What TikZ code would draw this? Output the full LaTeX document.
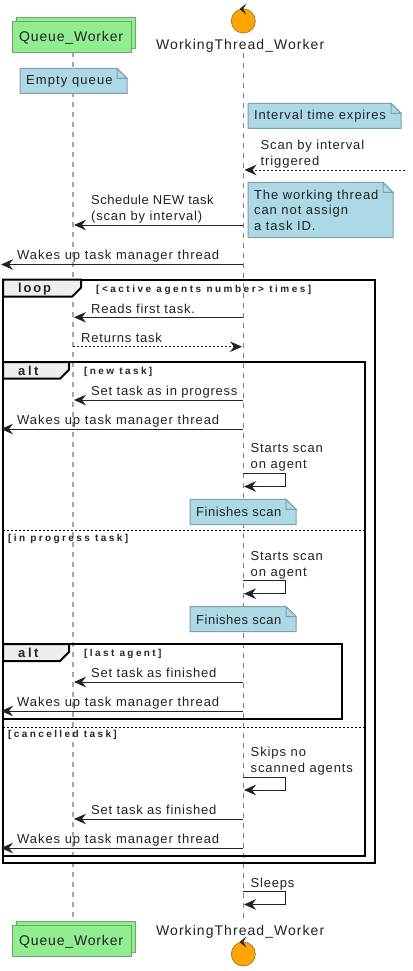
\documentclass[tikz,border=0pt]{standalone}
\usepackage{fontspec}
\setmainfont{Liberation Sans}
\newfontfamily\msgfont[LetterSpace=7]{Liberation Sans}
\newfontfamily\actorfont[LetterSpace=7.5]{Liberation Sans}
\newfontfamily\tagfont[LetterSpace=20]{Liberation Sans}
\newfontfamily\guardfont[LetterSpace=24]{Liberation Sans}
\newcommand\lsp[2]{{\addfontfeature{LetterSpace=#1}#2}}
\usetikzlibrary{arrows.meta}
\definecolor{txt}{HTML}{222222}
\definecolor{notefill}{HTML}{ADD8E6}
\definecolor{noteline}{HTML}{7F9FAB}
\definecolor{qfill}{HTML}{90EE90}
\definecolor{qline}{HTML}{6FA56F}
\definecolor{tabfill}{HTML}{EEEEEE}
\definecolor{ctlfill}{HTML}{FFA500}
\definecolor{ctlline}{HTML}{A08030}
\tikzset{
  msgtext/.style={inner sep=0pt,anchor=base west,text=txt,align=left,font=\msgfont\fontsize{13}{15.5}\selectfont},
  actortext/.style={inner sep=0pt,anchor=base west,text=txt,font=\actorfont\fontsize{14}{16}\selectfont},
  tabtext/.style={inner sep=0pt,anchor=base west,text=black!85,font=\tagfont\bfseries\fontsize{13}{15}\selectfont},
  guardtext/.style={inner sep=0pt,anchor=base west,text=black!85,font=\guardfont\bfseries\fontsize{10}{12}\selectfont},
  head/.style={-{Stealth[length=12pt,width=10.5pt,inset=4pt]}},
  solidmsg/.style={head,draw=txt,line width=1pt},
  dotmsg/.style={head,draw=txt,line width=1pt,dash pattern=on 2pt off 2pt},
  frameline/.style={draw=black,line width=2pt},
  divider/.style={draw=black,line width=1pt,dash pattern=on 2pt off 2pt},
  notebox/.style={fill=notefill,draw=noteline,line width=1pt},
  qbox/.style={fill=qfill,draw=qline,line width=1pt},
  qlife/.style={draw=black!35,line width=1.4pt,dash pattern=on 5pt off 5pt},
  wlife/.style={draw=black!50,line width=1pt,dash pattern=on 5pt off 5pt},
}
% straight message: name, x from, x to, y, style
\newcommand\msgline[5]{%
  \coordinate (#1a) at (#2,#4);
  \coordinate (#1b) at (#3,#4);
  \draw[#5] (#1a) -- (#1b);}
% self message: name, y top, y bottom
\newcommand\selfmsg[3]{%
  \coordinate (#1a) at (243,#2);
  \coordinate (#1b) at (285.5,#2);
  \coordinate (#1c) at (285.5,#3);
  \coordinate (#1d) at (244,#3);
  \draw[solidmsg] (#1a) -- (#1b) -- (#1c) -- (#1d);}
% note: left, top, right, bottom
\newcommand\notepaper[4]{%
  \draw[notebox] (#1,#2) -- ({#3-10},#2) -- (#3,{#2+10}) -- (#3,#4) -- (#1,#4) -- cycle;
  \draw[notebox] ({#3-10},#2) -- ({#3-10},{#2+10}) -- (#3,{#2+10}) -- cycle;}
% group frame: left top right bottom tabright tabbottom
\newcommand\groupframe[6]{%
  \draw[frameline] (#1,#2) rectangle (#3,#4);
  \draw[frameline,fill=tabfill] (#1,#2) -- (#5,#2) -- (#5,{#6-9}) -- ({#5-9},#6) -- (#1,#6) -- cycle;}
% actor with stacked boxes: name, top of back box
\newcommand\queueactor[2]{%
  \draw[qbox] (16,#2) rectangle (135,{#2+31});
  \draw[qbox] (12,{#2+4}) rectangle (131,{#2+34.5});
  \node[actortext] (#1) at (19,{#2+24.2}) {\lsp{6}{Queue\_Worker}};}
% control: name, circle centre y
\newcommand\controlactor[2]{%
  \node[circle,fill=ctlfill,draw=ctlline,line width=0.8pt,minimum size=24pt,inner sep=0pt] (#1) at (243.3,#2) {};
  \fill[black!85] (246.3,{#2-17.5}) -- (239.5,{#2-12}) -- (246.3,{#2-6.5}) -- (243.3,{#2-12}) -- cycle;}
\begin{document}
\begin{tikzpicture}[x=1pt,y=-1pt]
\useasboundingbox (0,0) rectangle (412,971);
\fill[white] (0,0) rectangle (412,971);
% lifelines
\coordinate (qtop) at (73,52);
\coordinate (qbot) at (73,921);
\coordinate (wtop) at (243.3,53);
\coordinate (wbot) at (243.3,920);
\draw[qlife] (qtop) -- (qbot);
\draw[wlife] (wtop) -- (wbot);
% actors
\queueactor{qt}{17.7}
\queueactor{qb}{921.5}
\controlactor{wt}{21}
\controlactor{wb}{954}
\node[actortext] (wtl) at (156,50) {WorkingThread\_Worker};
\node[actortext] (wbl) at (156,935) {WorkingThread\_Worker};
% top notes
\notepaper{20}{68.3}{127}{93.3}
\node[msgtext] (n1) at (26,85) {\lsp{8.4}{Empty queue}};
\notepaper{248}{103.3}{401}{128.3}
\node[msgtext] (n2) at (254,120) {\lsp{6.6}{Interval time expires}};
\msgline{m1}{405}{244.5}{170}{dotmsg}
\node[msgtext] (t1) at (260.5,165) {\lsp{6.5}{Scan by interval}\\triggered};
\notepaper{248}{182.3}{393}{237.5}
\node[msgtext] (n3) at (254,230) {\lsp{6.6}{The working thread}\\can not assign\\a task ID.};
\msgline{m2}{243}{74}{225}{solidmsg}
\node[msgtext] (t2) at (91,220) {\lsp{3.8}{Schedule NEW task}\\\lsp{6.2}{(scan by interval)}};
\msgline{m3}{243}{1}{264.5}{solidmsg}
\node[msgtext] (t3) at (17,259) {\lsp{7.3}{Wakes up task manager thread}};
% loop
\groupframe{3}{279.5}{374.5}{863}{81}{296.7}
\node[tabtext] (l1) at (18,292.7) {\lsp{14}{loop}};
\node[guardtext] (g1) at (96,292) {\lsp{25}{[<active agents number> times]}};
\msgline{m4}{243}{74}{317.3}{solidmsg}
\node[msgtext] (t4) at (91,313) {\lsp{5.8}{Reads first task.}};
\msgline{m5}{73}{242}{346.7}{dotmsg}
\node[msgtext] (t5) at (81,342) {\lsp{6}{Returns task}};
% alt outer
\groupframe{3}{362}{364.7}{856}{69}{378.7}
\node[tabtext] (l2) at (18,375) {alt};
\node[guardtext] (g2) at (84,374.5) {[new task]};
\msgline{m6}{243}{74}{400}{solidmsg}
\node[msgtext] (t6) at (91,395) {\lsp{6}{Set task as in progress}};
\msgline{m7}{243}{1}{429}{solidmsg}
\node[msgtext] (t7) at (17,424) {\lsp{7.3}{Wakes up task manager thread}};
\selfmsg{s1}{473.3}{486.5}
\node[msgtext] (t8) at (250.5,468) {\lsp{6}{Starts scan}\\on agent};
\notepaper{190}{499.3}{296}{524.7}
\node[msgtext] (n4) at (196,516) {\lsp{4}{Finishes scan}};
\coordinate (d1a) at (3,530.5);
\coordinate (d1b) at (364,530.5);
\draw[divider] (d1a) -- (d1b);
\node[guardtext] (g3) at (8,541) {[in progress task]};
\selfmsg{s2}{580.3}{593.7}
\node[msgtext] (t9) at (250.5,576) {\lsp{6}{Starts scan}\\on agent};
\notepaper{190}{606.5}{296}{631.5}
\node[msgtext] (n5) at (196,624) {\lsp{4}{Finishes scan}};
% alt inner
\groupframe{3}{644}{342}{719}{69}{661}
\node[tabtext] (l3) at (18,657) {alt};
\node[guardtext] (g4) at (84,656.5) {[last agent]};
\msgline{m8}{243}{74}{682}{solidmsg}
\node[msgtext] (t10) at (91,677) {\lsp{6}{Set task as finished}};
\msgline{m9}{243}{1}{711}{solidmsg}
\node[msgtext] (t11) at (17,706) {\lsp{7.3}{Wakes up task manager thread}};
\coordinate (d2a) at (3,727);
\coordinate (d2b) at (364,727);
\draw[divider] (d2a) -- (d2b);
\node[guardtext] (g5) at (8,737) {[cancelled task]};
\selfmsg{s3}{777.3}{790}
\node[msgtext] (t12) at (250.5,772) {Skips no\\\lsp{6.7}{scanned agents}};
\msgline{m10}{243}{74}{819}{solidmsg}
\node[msgtext] (t13) at (91,814) {\lsp{6}{Set task as finished}};
\msgline{m11}{243}{1}{848}{solidmsg}
\node[msgtext] (t14) at (17,843) {\lsp{7.3}{Wakes up task manager thread}};
\selfmsg{s4}{891.7}{904.5}
\node[msgtext] (t15) at (250.5,887) {\lsp{6}{Sleeps}};
\end{tikzpicture}
\end{document}
